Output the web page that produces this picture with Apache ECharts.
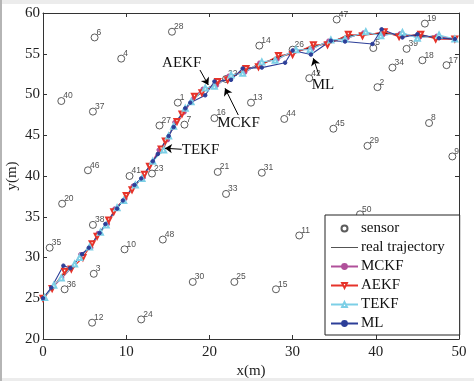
<!DOCTYPE html>
<html><head><meta charset="utf-8">
<script src="https://cdn.jsdelivr.net/npm/echarts@6/dist/echarts.min.js"></script>
<style>html,body{margin:0;padding:0;background:#fff}#c{width:474px;height:381px}</style>
</head><body><div id="c"></div>
<script>
// sensors: [x, y, id]
const sensors = [
 [6.2,57,6],[9.4,54.4,4],[15.5,57.7,28],[2.2,49.2,40],[6,47.9,37],[16.2,49,1],[14,46.2,27],[17,46.3,7],
 [20.6,47.1,16],[22,51.9,22],[5.4,40.7,46],[10.4,40,41],[13.1,40.3,23],[21,40.5,21],[22,37.8,33],
 [35.3,59.2,47],[45.9,58.7,19],[26,56,14],[30,55.5,26],[39.7,55.7,5],[43.7,55.6,39],[42,53.3,34],
 [45.6,54.2,18],[48.5,53.6,17],[32,52,42],[40.2,50.9,2],[25,49,13],[29,47,44],[34.9,45.8,45],
 [46.4,46.5,8],[39,43.7,29],[49.2,42.4,9],[26.3,40.4,31],[2.3,36.6,20],[6,34,38],[0.8,31.2,35],
 [9.8,31,10],[14.4,32.2,48],[6.1,28,3],[2.6,26.1,36],[18,27,30],[23,27,25],[5.9,22,12],[11.8,22.4,24],
 [30.8,32.7,11],[38.1,35.3,50],[28,26.1,15]
];
const realTrajectory = [
 [0,25],[1.2,26.4],[2.4,27.8],[3.5,29.0],[4.6,30.2],[5.7,31.5],[6.7,32.8],[7.7,34.3],[8.7,35.8],[9.8,37.3],
 [10.9,38.6],[12.0,40.0],[13.0,41.5],[14.0,43.0],[14.9,44.6],[15.9,46.4],[16.9,48.0],[18.0,49.4],[19.3,50.5],
 [20.8,51.3],[22.4,52.1],[24.2,52.9],[26.1,53.7],[28.1,54.5],[30.2,55.2],[32.3,55.8],[34.4,56.4],[36.5,57.1],
 [38.6,57.4],[40.8,57.5],[43.0,57.3],[45.2,57.2],[47.4,57.0],[49.5,56.8]
];
const mckf = [
 [0,25],[1.3,26.5],[2.3,27.5],[3.6,28.9],[4.5,30.4],[5.8,31.2],[6.6,33.0],[7.8,34.1],[8.6,36.0],[9.9,37.2],
 [10.8,38.8],[12.1,39.8],[13.1,41.7],[13.9,43.2],[15.0,44.4],[15.8,46.6],[17.0,47.8],[18.1,49.6],[19.2,50.7],
 [20.9,51.1],[22.3,52.3],[24.3,52.7],[26.0,53.9],[28.2,54.3],[30.1,55.4],[32.4,55.6],[34.3,56.6],[36.6,56.9],
 [38.5,57.6],[40.9,57.3],[42.9,57.5],[45.3,57.0],[47.3,57.2],[49.5,56.8]
];
const aekf = [
 [0,25],[1.1,26.2],[2.6,28.3],[3.4,28.6],[4.8,30.0],[5.9,31.7],[6.5,32.6],[7.9,34.6],[8.5,35.6],[10.0,37.6],
 [10.7,38.3],[12.2,40.2],[12.8,41.2],[14.2,43.3],[14.7,44.3],[16.1,46.7],[16.7,47.6],[18.2,49.8],[19.1,50.2],
 [21.0,51.6],[22.2,51.8],[24.4,53.2],[25.9,53.4],[28.3,54.8],[30.0,54.9],[32.5,56.1],[34.2,56.1],[36.7,57.4],
 [38.4,57.2],[41.0,57.7],[42.8,57.1],[45.4,57.4],[47.2,56.8],[49.5,56.8]
];
const tekf = [
 [0.2,25.1],[1.3,26.6],[2.2,27.5],[3.8,29.2],[4.4,30.0],[5.6,31.3],[6.9,33.1],[7.6,34.0],[8.9,36.1],[9.7,37.0],
 [11.1,38.9],[11.9,39.7],[13.2,41.8],[14.5,43.2],[15.1,44.9],[15.7,46.1],[17.1,48.3],[17.8,49.1],[19.5,50.8],
 [20.6,51.0],[22.6,52.4],[24.0,52.6],[26.3,54.0],[27.9,54.2],[30.4,55.5],[32.1,55.5],[34.6,56.7],[36.3,56.8],
 [38.8,57.7],[40.6,57.2],[43.2,57.6],[45.0,56.9],[47.6,57.3],[49.5,56.8]
];
const ml = [
 [0,25],[1.0,26.3],[2.45,29.0],[3.3,28.7],[4.7,30.4],[5.5,31.2],[6.8,33.0],[7.5,34.1],[8.9,36.0],[9.6,37.0],
 [11.0,38.9],[11.8,39.7],[13.2,41.8],[13.8,42.7],[15.1,44.9],[15.7,46.0],[17.1,48.3],[17.7,49.0],[19.5,49.9],
 [20.6,51.6],[22.6,51.8],[24.0,53.2],[26.3,53.3],[29.1,53.9],[30.0,55.4],[32.2,54.9],[34.6,56.6],[36.3,56.5],
 [39.6,56.2],[40.7,58.0],[43.2,57.0],[45.0,57.4],[47.6,56.9],[49.5,56.8]
];
// annotations: [label, textX, textY, arrowFromX, arrowFromY, arrowToX, arrowToY]
const annotations = [
 ['AEKF',16.67,53.83,18.87,53.0,19.87,51.17],
 ['MCKF',23.5,46.47,23.47,47.48,21.88,50.76],
 ['TEKF',18.93,43.19,16.67,43.28,14.66,43.4],
 ['ML',33.65,51.17,33.17,52.39,32.49,54.44]
];
const xTicks = {min:0,max:50,interval:10};
const yTicks = {min:20,max:60,interval:5};

const serif = 'Liberation Serif';
const chart = echarts.init(document.getElementById('c'));
const axisCommon = {
  axisLine:{show:true,onZero:false,lineStyle:{color:'#333',width:1}},
  axisTick:{show:true,inside:true,length:4,lineStyle:{color:'#333'}},
  splitLine:{show:false}
};
function est(name,data,color,symbol,size,rotate){
  return {name,type:'line',data,symbol,symbolSize:size,symbolRotate:rotate||0,showAllSymbol:true,
    lineStyle:{color,width:1.1},itemStyle:{color,borderColor:color,borderWidth:1},z:3,animation:false};
}
chart.setOption({
  animation:false,
  backgroundColor:'#fff',
  grid:{left:43,right:15,top:13,bottom:42,containLabel:false,outerBoundsMode:'none'},
  graphic:[
    {type:'rect',shape:{x:0,y:0,width:474,height:4},style:{fill:'#ececec'},silent:true,z:100},
    {type:'rect',shape:{x:0,y:378,width:474,height:3},style:{fill:'#ececec'},silent:true,z:100},
    {type:'rect',shape:{x:0,y:0,width:2,height:381},style:{fill:'#b5b5b5'},silent:true,z:100}
  ],
  xAxis:[
    Object.assign({type:'value',min:xTicks.min,max:xTicks.max,interval:xTicks.interval,position:'bottom',
      name:'x(m)',nameLocation:'middle',nameGap:25,nameMoveOverlap:false,
      nameTextStyle:{fontFamily:serif,fontSize:15,color:'#222'},
      axisLabel:{fontFamily:serif,fontSize:15,color:'#222',margin:6}},axisCommon),
    Object.assign({type:'value',min:xTicks.min,max:xTicks.max,interval:xTicks.interval,position:'top',
      axisLabel:{show:false}},axisCommon)
  ],
  yAxis:[
    Object.assign({type:'value',min:yTicks.min,max:yTicks.max,interval:yTicks.interval,position:'left',
      name:'y(m)',nameLocation:'middle',nameGap:23,nameRotate:90,nameMoveOverlap:false,
      nameTextStyle:{fontFamily:serif,fontSize:15,color:'#222'},
      axisLabel:{fontFamily:serif,fontSize:15,color:'#222',margin:3}},axisCommon),
    Object.assign({type:'value',min:yTicks.min,max:yTicks.max,interval:yTicks.interval,position:'right',
      axisLabel:{show:false}},axisCommon)
  ],
  legend:{
    orient:'vertical',left:325,top:215,
    data:[{name:'sensor',icon:'emptyCircle',itemStyle:{color:'#333',borderColor:'#333',borderWidth:1}},
      {name:'real trajectory',icon:'path://M0,0 L40,0 L40,1 L0,1 Z',itemStyle:{color:'#000'}},
      'MCKF','AEKF','TEKF','ML'],
    itemWidth:27,itemHeight:6,itemGap:4,
    padding:[6,15,4,5],
    backgroundColor:'#fff',borderColor:'#222',borderWidth:1,
    textStyle:{fontFamily:serif,fontSize:15,color:'#111',padding:[0,0,0,-2]}
  },
  series:[
    {name:'sensor',type:'scatter',data:sensors,symbol:'circle',symbolSize:7,
      itemStyle:{color:'rgba(255,255,255,0)',borderColor:'#333',borderWidth:1},
      label:{show:true,position:'right',distance:0,offset:[-2,-5],fontSize:8.5,color:'#222',
        fontFamily:'Liberation Sans',formatter:p=>String(p.value[2])},z:2},
    {name:'real trajectory',type:'line',data:realTrajectory,symbol:'none',
      lineStyle:{color:'#000',width:1.2},z:3,
      markLine:{silent:true,symbol:['none','arrow'],symbolSize:7,
        lineStyle:{color:'#000',width:1,type:'solid'},label:{show:false},
        data:annotations.map(a=>[{coord:[a[3],a[4]]},{coord:[a[5],a[6]]}])},
      markPoint:{silent:true,symbol:'circle',symbolSize:0,
        label:{show:true,position:'inside',formatter:'{b}',fontFamily:serif,fontSize:15,color:'#111'},
        data:annotations.map(a=>({name:a[0],coord:[a[1],a[2]]}))}},
    est('MCKF',mckf,'#b0509a','circle',3.5),
    est('AEKF',aekf,'#e6332a','emptyTriangle',5,180),
    est('TEKF',tekf,'#7ccfe6','emptyTriangle',5),
    est('ML',ml,'#2c3e98','circle',3.5)
  ]
});
</script></body></html>
